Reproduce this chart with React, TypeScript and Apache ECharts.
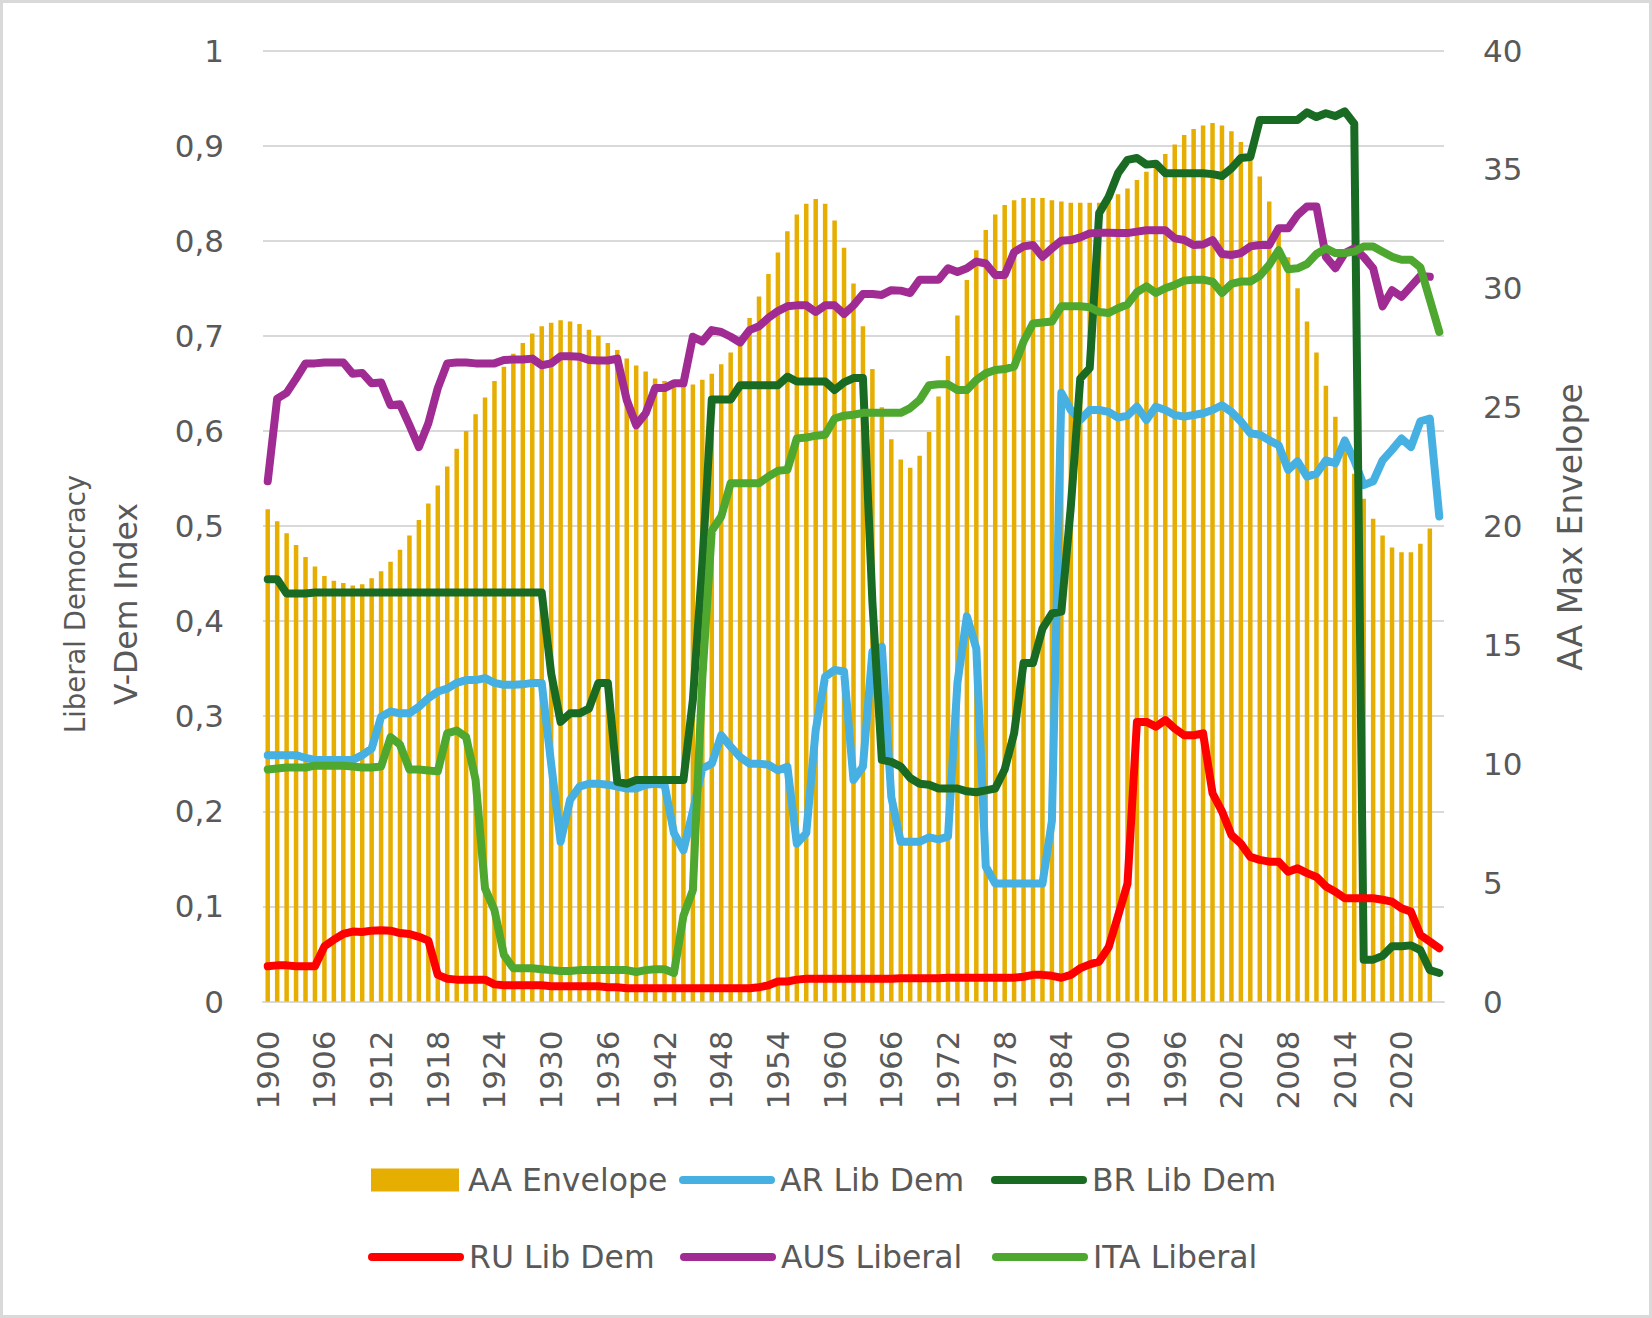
import React, { useEffect, useRef } from 'react';
import * as echarts from 'echarts';

// Category axis: one slot per year, 1900–2024
const years: string[] = [];
for (let y = 1900; y <= 2024; y++) years.push(String(y));

// AA Max Envelope (right axis), 1900–2023
const aaEnvelope: (number | null)[] = [
  20.7, 20.2, 19.7, 19.2, 18.7, 18.3, 17.9, 17.7, 17.6, 17.5,
  17.55, 17.8, 18.1, 18.5, 19.0, 19.6, 20.25, 20.95, 21.7, 22.5,
  23.25, 24.0, 24.7, 25.4, 26.1, 26.7, 27.25, 27.7, 28.1, 28.4,
  28.55, 28.65, 28.6, 28.5, 28.25, 28.0, 27.7, 27.4, 27.05, 26.75,
  26.5, 26.2, 26.1, 26.0, 25.95, 25.95, 26.15, 26.4, 26.8, 27.3,
  27.95, 28.75, 29.65, 30.6, 31.5, 32.4, 33.1, 33.55, 33.75, 33.55,
  32.85, 31.7, 30.2, 28.4, 26.6, 25.0, 23.65, 22.8, 22.45, 22.95,
  23.95, 25.45, 27.15, 28.85, 30.35, 31.6, 32.45, 33.1, 33.5, 33.7,
  33.8, 33.8, 33.8, 33.7, 33.65, 33.6, 33.6, 33.6, 33.6, 33.75,
  33.95, 34.2, 34.55, 34.9, 35.3, 35.65, 36.05, 36.45, 36.7, 36.85,
  36.95, 36.85, 36.6, 36.15, 35.4, 34.7, 33.65, 32.4, 31.3, 30.0,
  28.6, 27.3, 25.9, 24.6, 23.35, 22.2, 21.15, 20.3, 19.6, 19.1,
  18.9, 18.9, 19.25, 19.9, null,
];

// Liberal democracy index series (left axis)
const arLibDem: (number | null)[] = [
  0.259, 0.259, 0.259, 0.259, 0.256, 0.254, 0.254, 0.254, 0.254, 0.254,
  0.259, 0.266, 0.2995, 0.305, 0.303, 0.303, 0.31, 0.319, 0.326, 0.329,
  0.335, 0.338, 0.338, 0.34, 0.335, 0.333, 0.333, 0.3335, 0.335, 0.335,
  0.25, 0.168, 0.212, 0.226, 0.229, 0.229, 0.228, 0.226, 0.224, 0.224,
  0.228, 0.229, 0.228, 0.177, 0.159, 0.2, 0.245, 0.25, 0.28, 0.268,
  0.257, 0.25, 0.25, 0.249, 0.243, 0.247, 0.166, 0.177, 0.2855, 0.3415,
  0.3486, 0.347, 0.233, 0.247, 0.368, 0.373, 0.215, 0.168, 0.168, 0.168,
  0.1726, 0.1705, 0.1733, 0.335, 0.405, 0.371, 0.142, 0.124, 0.124, 0.124,
  0.124, 0.124, 0.124, 0.19, 0.64, 0.622, 0.6115, 0.622, 0.622, 0.62,
  0.614, 0.616, 0.6255, 0.6115, 0.6255, 0.622, 0.6167, 0.615, 0.6167, 0.6185,
  0.622, 0.627, 0.62, 0.61, 0.5975, 0.596, 0.59, 0.585, 0.559, 0.568,
  0.552, 0.555, 0.569, 0.566, 0.59, 0.569, 0.543, 0.547, 0.569, 0.58,
  0.592, 0.583, 0.61, 0.613, 0.51,
];

const brLibDem: (number | null)[] = [
  0.444, 0.444, 0.429, 0.429, 0.429, 0.43, 0.43, 0.43, 0.43, 0.43,
  0.43, 0.43, 0.43, 0.43, 0.43, 0.43, 0.43, 0.43, 0.43, 0.43,
  0.43, 0.43, 0.43, 0.43, 0.43, 0.43, 0.43, 0.43, 0.43, 0.43,
  0.345, 0.294, 0.303, 0.303, 0.308, 0.335, 0.335, 0.231, 0.229, 0.233,
  0.233, 0.233, 0.233, 0.233, 0.233, 0.317, 0.46, 0.633, 0.633, 0.633,
  0.648, 0.648, 0.648, 0.648, 0.648, 0.657, 0.652, 0.652, 0.652, 0.652,
  0.643, 0.651, 0.6555, 0.6555, 0.42, 0.254, 0.252, 0.247, 0.235, 0.229,
  0.228, 0.224, 0.224, 0.224, 0.221, 0.22, 0.222, 0.224, 0.244, 0.282,
  0.356, 0.356, 0.392, 0.408, 0.41, 0.52, 0.655, 0.666, 0.829, 0.846,
  0.871, 0.885, 0.887, 0.88, 0.881, 0.871, 0.871, 0.871, 0.871, 0.871,
  0.87, 0.868, 0.876, 0.887, 0.888, 0.927, 0.927, 0.927, 0.927, 0.927,
  0.935, 0.93, 0.934, 0.931, 0.936, 0.923, 0.044, 0.044, 0.048, 0.058,
  0.058, 0.059, 0.054, 0.033, 0.03,
];

const ruLibDem: (number | null)[] = [
  0.037, 0.038, 0.038, 0.037, 0.037, 0.037, 0.058, 0.065, 0.071, 0.0735,
  0.073, 0.0745, 0.075, 0.0745, 0.072, 0.071, 0.068, 0.064, 0.028, 0.024,
  0.023, 0.023, 0.023, 0.023, 0.018, 0.017, 0.017, 0.017, 0.017, 0.017,
  0.016, 0.016, 0.016, 0.016, 0.016, 0.016, 0.015, 0.015, 0.014, 0.014,
  0.014, 0.014, 0.014, 0.014, 0.014, 0.014, 0.014, 0.014, 0.014, 0.014,
  0.014, 0.014, 0.015, 0.017, 0.021, 0.021, 0.023, 0.024, 0.024, 0.024,
  0.024, 0.024, 0.024, 0.024, 0.024, 0.024, 0.024, 0.0245, 0.0245, 0.0245,
  0.0245, 0.0245, 0.025, 0.025, 0.025, 0.025, 0.025, 0.025, 0.025, 0.025,
  0.026, 0.028, 0.028, 0.027, 0.025, 0.028, 0.035, 0.039, 0.042, 0.057,
  0.09, 0.124, 0.294, 0.294, 0.289, 0.296, 0.287, 0.28, 0.28, 0.282,
  0.219, 0.2, 0.175, 0.166, 0.152, 0.149, 0.147, 0.147, 0.1365, 0.14,
  0.135, 0.131, 0.121, 0.1155, 0.1085, 0.1085, 0.1085, 0.1085, 0.107, 0.105,
  0.098, 0.0945, 0.07, 0.063, 0.056,
];

const ausLiberal: (number | null)[] = [
  0.547, 0.634, 0.64, 0.655, 0.671, 0.671, 0.672, 0.672, 0.672, 0.66,
  0.661, 0.65, 0.651, 0.627, 0.628, 0.606, 0.583, 0.608, 0.645, 0.671,
  0.672, 0.672, 0.671, 0.671, 0.671, 0.6745, 0.675, 0.675, 0.676, 0.669,
  0.671, 0.6785, 0.6785, 0.678, 0.6745, 0.674, 0.674, 0.676, 0.6325, 0.606,
  0.6185, 0.645, 0.645, 0.65, 0.65, 0.699, 0.694, 0.706, 0.704, 0.699,
  0.693, 0.706, 0.71, 0.719, 0.726, 0.731, 0.732, 0.732, 0.725, 0.732,
  0.732, 0.723, 0.732, 0.744, 0.744, 0.743, 0.748, 0.7475, 0.745, 0.759,
  0.759, 0.759, 0.771, 0.767, 0.771, 0.778, 0.776, 0.764, 0.764, 0.788,
  0.794, 0.7955, 0.783, 0.792, 0.8, 0.8007, 0.8035, 0.8077, 0.8084, 0.8084,
  0.808, 0.808, 0.8095, 0.811, 0.811, 0.811, 0.8025, 0.8007, 0.7955, 0.796,
  0.8007, 0.786, 0.785, 0.787, 0.794, 0.7955, 0.7955, 0.813, 0.813, 0.827,
  0.836, 0.836, 0.783, 0.771, 0.787, 0.792, 0.783, 0.771, 0.731, 0.748,
  0.741, 0.752, 0.763, 0.762, null,
];

const itaLiberal: (number | null)[] = [
  0.244, 0.245, 0.246, 0.246, 0.246, 0.248, 0.248, 0.248, 0.248, 0.247,
  0.246, 0.246, 0.247, 0.278, 0.27, 0.244, 0.244, 0.243, 0.242, 0.282,
  0.285, 0.278, 0.233, 0.119, 0.096, 0.049, 0.035, 0.035, 0.035, 0.034,
  0.033, 0.032, 0.032, 0.033, 0.033, 0.033, 0.033, 0.033, 0.033, 0.031,
  0.033, 0.034, 0.034, 0.03, 0.09, 0.117, 0.34, 0.495, 0.51, 0.545,
  0.545, 0.545, 0.545, 0.552, 0.558, 0.559, 0.592, 0.593, 0.595, 0.596,
  0.613, 0.616, 0.617, 0.619, 0.619, 0.619, 0.619, 0.619, 0.624, 0.6325,
  0.648, 0.649, 0.649, 0.643, 0.643, 0.6535, 0.6605, 0.664, 0.665, 0.6675,
  0.694, 0.713, 0.714, 0.715, 0.731, 0.731, 0.731, 0.73, 0.725, 0.724,
  0.729, 0.733, 0.746, 0.752, 0.745, 0.75, 0.7535, 0.758, 0.759, 0.759,
  0.757, 0.745, 0.7545, 0.757, 0.757, 0.763, 0.7745, 0.79, 0.77, 0.771,
  0.7755, 0.786, 0.792, 0.787, 0.787, 0.7885, 0.794, 0.794, 0.7885, 0.783,
  0.78, 0.78, 0.772, 0.738, 0.704,
];

const FONT = '"DejaVu Sans", "Liberation Sans", sans-serif';
const TEXT_GREY = '#595959';
const GRID_GREY = '#D9D9D9';

const lineSeries = (name: string, data: (number | null)[], color: string) => ({
  name,
  type: 'line',
  yAxisIndex: 0,
  data,
  symbol: 'none',
  showSymbol: false,
  connectNulls: false,
  lineStyle: { color, width: 8, cap: 'round', join: 'round' },
  itemStyle: { color },
  z: 3,
});

// Line entries in the legend show only the stroke, no marker
const lineEntry = (name: string) => ({ name, itemStyle: { opacity: 0 } });

const legendBase = {
  orient: 'horizontal',
  itemWidth: 88,
  itemHeight: 23,
  itemGap: 10,
  padding: 0,
  selectedMode: false,
  lineStyle: { width: 8 },
  formatter: (name: string) => `{t|${name}}`,
  textStyle: {
    rich: {
      t: {
        width: 201,
        padding: [0, 0, 0, 4],
        fontFamily: FONT,
        fontSize: 31.5,
        color: TEXT_GREY,
        lineHeight: 36,
      },
    },
  },
};

export default function App() {
  const ref = useRef<HTMLDivElement>(null);

  useEffect(() => {
    if (!ref.current) return;
    const chart = echarts.init(ref.current, null, { renderer: 'svg' });
    chart.setOption({
      animation: false,
      backgroundColor: '#ffffff',
      grid: { left: 263, right: 208, top: 50.5, bottom: 316.5 },
      xAxis: {
        type: 'category',
        data: years,
        boundaryGap: true,
        axisLine: { lineStyle: { color: GRID_GREY, width: 2 } },
        axisTick: { show: false },
        axisLabel: {
          interval: 5,
          rotate: 90,
          margin: 29,
          color: TEXT_GREY,
          fontFamily: FONT,
          fontSize: 31,
        },
      },
      yAxis: [
        {
          type: 'value',
          position: 'left',
          min: 0,
          max: 1,
          interval: 0.1,
          axisLine: { show: false },
          axisTick: { show: false },
          axisLabel: {
            margin: 39,
            color: TEXT_GREY,
            fontFamily: FONT,
            fontSize: 31,
            formatter: (v: number) => String(Math.round(v * 10) / 10).replace('.', ','),
          },
          splitLine: { lineStyle: { color: GRID_GREY, width: 2 } },
        },
        {
          type: 'value',
          position: 'right',
          min: 0,
          max: 40,
          interval: 5,
          axisLine: { show: false },
          axisTick: { show: false },
          axisLabel: { margin: 39, color: TEXT_GREY, fontFamily: FONT, fontSize: 31 },
          splitLine: { show: false },
        },
      ],
      legend: [
        {
          ...legendBase,
          left: 371,
          top: 1164,
          data: [{ name: 'AA Envelope', icon: 'rect' }, lineEntry('AR Lib Dem'), lineEntry('BR Lib Dem')],
        },
        {
          ...legendBase,
          left: 368,
          top: 1241,
          data: [lineEntry('RU Lib Dem'), lineEntry('AUS Liberal'), lineEntry('ITA Liberal')],
        },
      ],
      graphic: [
        {
          type: 'rect',
          shape: { x: 1.5, y: 1.5, width: 1649, height: 1315 },
          style: { fill: 'none', stroke: GRID_GREY, lineWidth: 3 },
          silent: true,
        },
        {
          type: 'text',
          x: 75,
          y: 604,
          rotation: Math.PI / 2,
          style: { text: 'Liberal Democracy', fontFamily: FONT, fontSize: 27.5, fill: TEXT_GREY, align: 'center', verticalAlign: 'middle' },
        },
        {
          type: 'text',
          x: 126,
          y: 604,
          rotation: Math.PI / 2,
          style: { text: 'V-Dem Index', fontFamily: FONT, fontSize: 31.5, fill: TEXT_GREY, align: 'center', verticalAlign: 'middle' },
        },
        {
          type: 'text',
          x: 1570,
          y: 527,
          rotation: Math.PI / 2,
          style: { text: 'AA Max Envelope', fontFamily: FONT, fontSize: 33, fill: TEXT_GREY, align: 'center', verticalAlign: 'middle' },
        },
      ],
      series: [
        {
          name: 'AA Envelope',
          type: 'bar',
          yAxisIndex: 1,
          data: aaEnvelope,
          barWidth: 4.5,
          itemStyle: { color: '#E6AE00' },
          z: 2,
        },
        lineSeries('AR Lib Dem', arLibDem, '#45B0E1'),
        lineSeries('BR Lib Dem', brLibDem, '#196B24'),
        lineSeries('RU Lib Dem', ruLibDem, '#FF0000'),
        lineSeries('AUS Liberal', ausLiberal, '#A02B93'),
        lineSeries('ITA Liberal', itaLiberal, '#4EA72E'),
      ],
    });
    return () => chart.dispose();
  }, []);

  return (
    <div
      ref={ref}
      style={{ position: 'absolute', left: 0, top: 0, width: 1652, height: 1318, background: '#fff' }}
    />
  );
}
